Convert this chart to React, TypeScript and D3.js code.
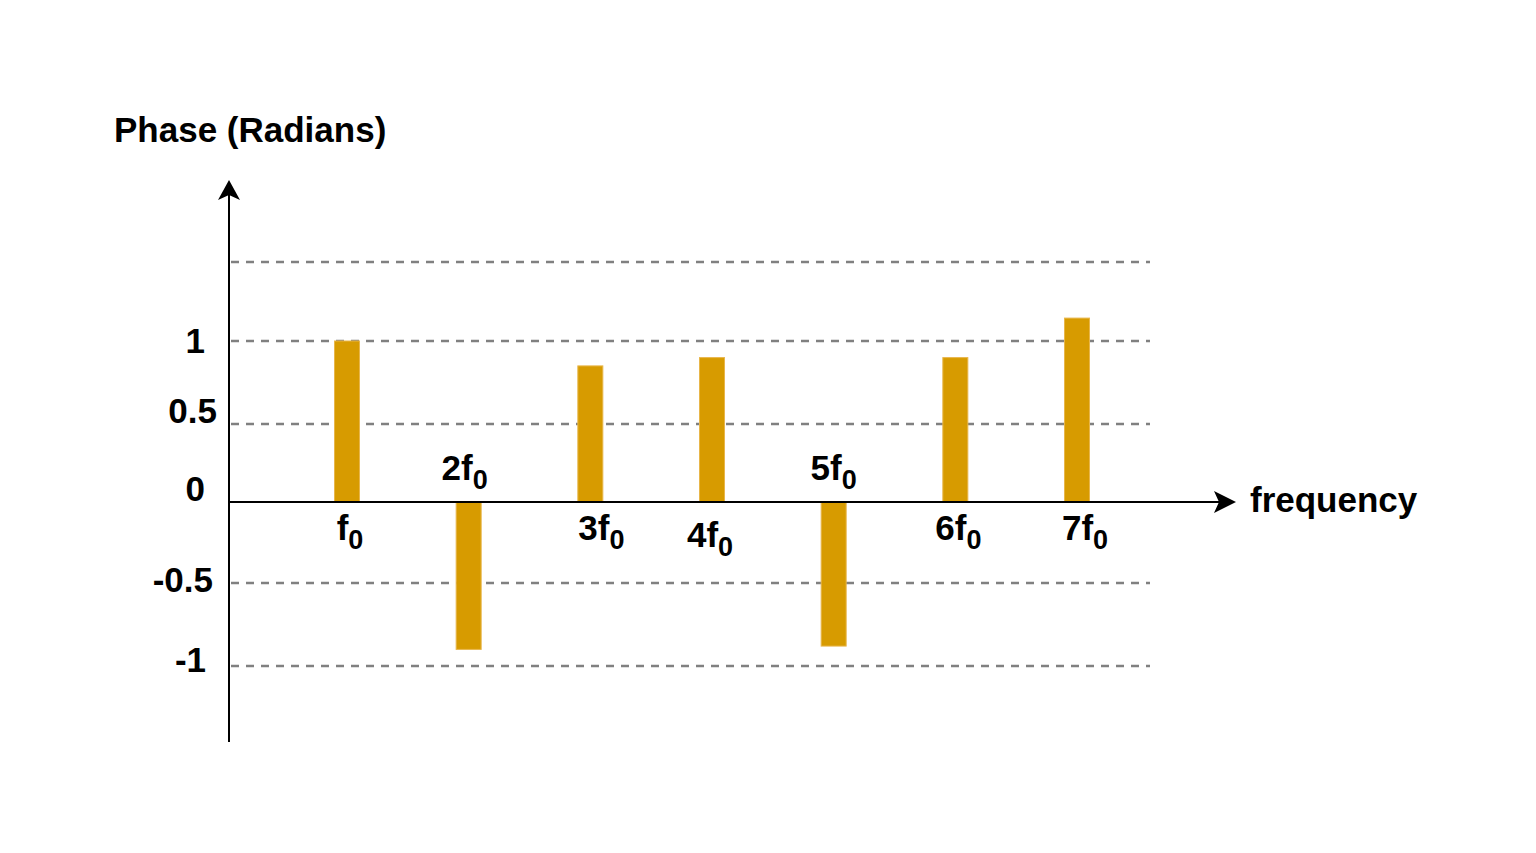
import React from 'react';
import * as d3 from 'd3';

// harmonic number and its phase in radians
const harmonics = [1, 2, 3, 4, 5, 6, 7];
const phases = [1.0, -0.9, 0.85, 0.9, -0.88, 0.9, 1.145];
const gridValues = [1.5, 1, 0.5, -0.5, -1];
const tickValues = [1, 0.5, 0, -0.5, -1];
const tickLabels = ['1', '0.5', '0', '-0.5', '-1'];

const W = 1536;
const H = 853;
const font = '"Liberation Sans", Arial, Helvetica, sans-serif';
const barColor = '#d79b00';

// hand-placed nudges for the labels, [dx, dy] in px
const tickNudge: Record<string, [number, number]> = {
    '1': [-3, 12], '0.5': [9, -1], '0': [-3, -1], '-0.5': [5, 9], '-1': [-2, 6],
};
const harmonicNudge: [number, number][] = [
    [3, 0], [-4, 0], [11, 0], [-2, 7], [0, 0], [3, 0], [8, 0],
];

const App: React.FC = () => {
    const x = d3.scaleLinear().domain([1, 7]).range([347, 1077]);
    // the drawing's axis is not quite even, so calibrate on every gridline
    const y = d3.scaleLinear()
        .domain([-1, -0.5, 0, 0.5, 1, 1.5])
        .range([666, 583, 502, 424, 341, 262]);
    const axisX = 229;
    const barW = 25;

    const arrowUp = `M${axisX},180 L${axisX + 11},200 L${axisX},195 L${axisX - 11},200 Z`;
    const arrowRight = `M1236,${y(0)} L1214,${y(0) + 11} L1219,${y(0)} L1214,${y(0) - 11} Z`;

    return (
        <svg width={W} height={H} style={{ position: 'absolute', left: 0, top: 0, background: '#fff' }}
            fontFamily={font} fontWeight="bold">
            {/* grid */}
            {gridValues.map(v => (
                <line key={v} x1={axisX + 2} x2={1150} y1={y(v)} y2={y(v)}
                    stroke="#808080" strokeWidth={2.5} strokeDasharray="8 7" />
            ))}

            {/* bars */}
            {harmonics.map((h, i) => {
                const v = phases[i];
                const top = Math.min(y(v), y(0));
                return (
                    <rect key={h} x={x(h) - barW / 2} y={top} width={barW}
                        height={Math.abs(y(v) - y(0))}
                        fill={barColor} stroke="#e8b64a" strokeWidth={1} />
                );
            })}

            {/* axes */}
            <line x1={axisX} x2={axisX} y1={742} y2={190} stroke="#000" strokeWidth={2} />
            <path d={arrowUp} fill="#000" />
            <line x1={axisX} x2={1225} y1={y(0)} y2={y(0)} stroke="#000" strokeWidth={2} />
            <path d={arrowRight} fill="#000" />

            {/* y labels */}
            {tickValues.map((v, i) => {
                const [dx, dy] = tickNudge[tickLabels[i]];
                return (
                    <text key={v} x={208 + dx} y={y(v) + dy} textAnchor="end" fontSize={35}>
                        {tickLabels[i]}
                    </text>
                );
            })}

            {/* harmonic labels */}
            {harmonics.map((h, i) => {
                const v = phases[i];
                const [dx, dy] = harmonicNudge[i];
                const baseY = (v >= 0 ? y(0) + 38 : y(0) - 22) + dy;
                return (
                    <text key={h} x={x(h) + dx} y={baseY} textAnchor="middle" fontSize={35}>
                        {h === 1 ? '' : h}f
                        <tspan fontSize={27} dy={9}>0</tspan>
                    </text>
                );
            })}

            <text x={114} y={142} fontSize={35}>Phase (Radians)</text>
            <text x={1250} y={512} fontSize={35}>frequency</text>
        </svg>
    );
};

export default App;
